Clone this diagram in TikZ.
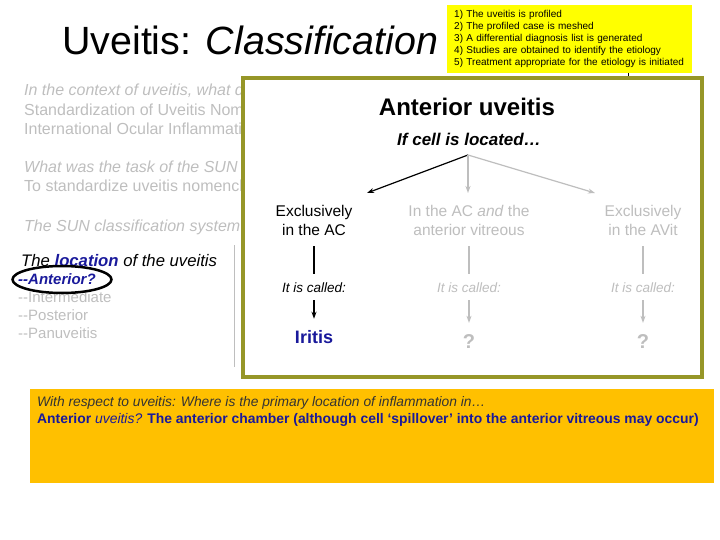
\documentclass[tikz,border=0pt]{standalone}
\usepackage{fontspec}
\setmainfont{Liberation Sans}
\usetikzlibrary{arrows.meta}

\definecolor{frameolive}{RGB}{150,150,40}
\definecolor{fadegray}{RGB}{190,190,190}
\definecolor{navy}{RGB}{25,25,155}
\definecolor{notebg}{RGB}{255,192,0}
\definecolor{stepsbg}{RGB}{255,255,0}
\newcommand{\fsz}[2]{\fontsize{#1}{#2}\selectfont}

\tikzset{
  bgline/.style={anchor=base west, inner sep=0pt, text=fadegray, font=\fsz{16}{19.5}},
  locline/.style={anchor=base west, inner sep=0pt, font=\fsz{15}{18}},
  colbox/.style={anchor=base, inner sep=0pt, align=center, font=\fsz{15.5}{19.5}},
  calledtxt/.style={anchor=base, inner sep=0pt, font=\itshape\fsz{13.5}{15}},
  answer/.style={anchor=base, inner sep=0pt, font=\bfseries\fsz{18}{21}},
}

\begin{document}
\begin{tikzpicture}[x=1pt, y=-1pt, >={Stealth[length=7pt, width=5pt]}]
    \useasboundingbox (0,0) rectangle (720,540);

    % Titolo
    \node[anchor=base west, inner sep=0pt, font=\fsz{39.4}{48}] (title) at (62,55) {Uveitis: \textit{Classification}};

    % Passi (box gialla)
    \node[anchor=north west, fill=stepsbg, inner xsep=7pt, inner ysep=0pt,
          text width=231pt, minimum height=68pt, align=left, font=\fsz{10}{12}]
          (steps) at (447,5) {1) The uveitis is profiled\\
          2) The profiled case is meshed\\
          3) A differential diagnosis list is generated\\
          4) Studies are obtained to identify the etiology\\
          5) Treatment appropriate for the etiology is initiated};
    \draw (628,73) -- (628,78);

    % Testo sullo sfondo
    \node[bgline] (q1) at (24,96) {\textit{In the context of uveitis, what does SUN mean?}};
    \node[bgline] (a1) at (24,116) {Standardization of Uveitis Nomenclature};
    \node[bgline] (a1b) at (24,135) {International Ocular Inflammation Society};
    \node[bgline] (q2) at (24,173) {\textit{What was the task of the SUN group?}};
    \node[bgline] (a2) at (24,192) {To standardize uveitis nomenclature};
    \node[bgline] (q3) at (24,231) {\textit{The SUN classification system is}};

    % Localizzazione
    \node[locline, font=\itshape\fsz{16.7}{19}] (loc) at (21,266) {The \textcolor{navy}{\bfseries location} of the uveitis};
    \node[locline, text=navy, font=\bfseries\itshape\fsz{15}{18}] (ant) at (18,284) {-{}-Anterior?};
    \node[locline, text=fadegray] (inter) at (18,302) {-{}-Intermediate};
    \node[locline, text=fadegray] (post) at (18,320) {-{}-Posterior};
    \node[locline, text=fadegray] (pan) at (18,338) {-{}-Panuveitis};
    \draw[line width=2.5pt] (62,279.5) ellipse (49.5 and 13.5);
    \draw[fadegray, line width=1pt] (234,245) -- (234,367);

    % Riquadro
    \draw[frameolive, line width=4pt, fill=white] (243,78) rectangle (702,377);

    \node[anchor=base, inner sep=0pt, font=\bfseries\fsz{24}{28}] (heading) at (467,116) {Anterior uveitis};
    \node[anchor=base, inner sep=0pt, font=\bfseries\itshape\fsz{17}{19}] (located) at (469,146) {If cell is located…};

    % Frecce
    \coordinate (split) at (468,155);
    \coordinate (tipL) at (367,193);
    \coordinate (tipM) at (468,193);
    \coordinate (tipR) at (595,193);
    \draw[->, line width=1.2pt] (split) -- (tipL);
    \draw[->, fadegray, line width=1.2pt] (split) -- (tipM);
    \draw[->, fadegray, line width=1.2pt] (split) -- (tipR);

    % Colonne
    \node[colbox] (acOnly) at (314,236) {Exclusively\\in the AC};
    \node[colbox, text=fadegray] (acVit) at (469,236) {In the AC \textit{and} the\\anterior vitreous};
    \node[colbox, text=fadegray] (avitOnly) at (643,236) {Exclusively\\in the AVit};

    \node[calledtxt] (calledL) at (314,292) {It is called:};
    \node[calledtxt, text=fadegray] (calledM) at (469,292) {It is called:};
    \node[calledtxt, text=fadegray] (calledR) at (643,292) {It is called:};

    \node[answer, text=navy] (iritis) at (314,343) {Iritis};
    \node[answer, text=fadegray, font=\bfseries\fsz{20}{24}] (unknM) at (469,348) {?};
    \node[answer, text=fadegray, font=\bfseries\fsz{20}{24}] (unknR) at (643,348) {?};

    \draw[line width=1.5pt, shorten <=10pt, shorten >=8pt] (acOnly.south) -- (calledL.north);
    \draw[fadegray, line width=1.5pt, shorten <=10pt, shorten >=8pt] (acVit.south) -- (calledM.north);
    \draw[fadegray, line width=1.5pt, shorten <=10pt, shorten >=8pt] (avitOnly.south) -- (calledR.north);
    \draw[->, line width=1.5pt, shorten <=8pt, shorten >=11pt] (calledL.south) -- (iritis.north);
    \draw[->, fadegray, line width=1.5pt, shorten <=8pt, shorten >=11pt] (calledM.south) -- (unknM.north);
    \draw[->, fadegray, line width=1.5pt, shorten <=8pt, shorten >=11pt] (calledR.south) -- (unknR.north);

    % Nota (box arancione)
    \node[anchor=north west, fill=notebg, minimum width=684pt, minimum height=94pt, inner sep=0pt] (note) at (30,389) {};
    \node[anchor=base west, inner sep=0pt, text=black!80, font=\itshape\fsz{13.8}{15}] (noteQ) at (37,406)
        {With respect to uveitis: Where is the primary location of inflammation in…};
    \node[anchor=base west, inner sep=0pt, text=navy, font=\bfseries\fsz{13.9}{15}] (noteA) at (37,423)
        {Anterior \mdseries\itshape uveitis? \upshape\bfseries The anterior chamber (although cell ‘spillover’ into the anterior vitreous may occur)};

\end{tikzpicture}
\end{document}
